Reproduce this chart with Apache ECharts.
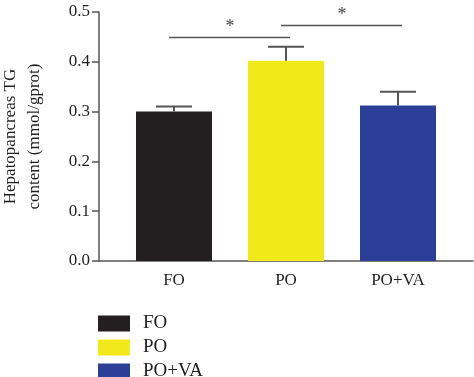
<!DOCTYPE html>
<html>
<head>
<meta charset="utf-8">
<script src="https://cdn.jsdelivr.net/npm/echarts@6/dist/echarts.min.js"></script>
<style>
  html, body { margin: 0; padding: 0; background: #fff; }
  #chart { width: 474px; height: 377px; }
</style>
</head>
<body>
<div id="chart"></div>
<script>
// groups and values
const groups = ['FO', 'PO', 'PO+VA'];
const means = [0.300, 0.402, 0.312];
const errors = [0.010, 0.028, 0.028];
const colors = ['#231f20', '#f2e91a', '#2b3f98'];
// significance brackets: from group index, to group index, height, label
const sigFrom = [0, 1];
const sigTo = [1, 2];
const sigLevel = [0.449, 0.473];
const sigLabel = ['*', '*'];

const font = '"Liberation Serif", "DejaVu Serif", serif';
const axisColor = '#555';

const chart = echarts.init(document.getElementById('chart'));

const barSeries = groups.map((g, i) => ({
  name: g,
  type: 'bar',
  barWidth: 76,
  barGap: '-100%',
  itemStyle: { color: colors[i] },
  data: groups.map((_, j) => (j === i ? means[i] : '-')),
  z: 2
}));

const errorSeries = {
  type: 'custom',
  name: 'err',
  data: groups.map((g, i) => [i, means[i], means[i] + errors[i]]),
  renderItem: function (params, api) {
    const base = api.coord([api.value(0), api.value(1)]);
    const top = api.coord([api.value(0), api.value(2)]);
    const half = 18;
    const style = { stroke: axisColor, lineWidth: 2 };
    return {
      type: 'group',
      children: [
        { type: 'line', shape: { x1: base[0], y1: base[1], x2: top[0], y2: top[1] }, style: style },
        { type: 'line', shape: { x1: top[0] - half, y1: top[1], x2: top[0] + half, y2: top[1] }, style: style }
      ]
    };
  },
  z: 3
};

const sigSeries = {
  type: 'custom',
  name: 'sig',
  data: sigFrom.map((f, i) => [f, sigTo[i], sigLevel[i], i]),
  renderItem: function (params, api) {
    const a = api.coord([api.value(0), api.value(2)]);
    const b = api.coord([api.value(1), api.value(2)]);
    const k = api.value(3);
    return {
      type: 'group',
      children: [
        { type: 'line', shape: { x1: a[0] - 5, y1: a[1], x2: b[0] + 4, y2: b[1] },
          style: { stroke: axisColor, lineWidth: 1.5 } },
        { type: 'text', x: (a[0] + b[0]) / 2, y: a[1] - 1,
          style: { text: sigLabel[k], fill: '#444', font: '18px ' + font,
                   textAlign: 'center', textVerticalAlign: 'bottom' } }
      ]
    };
  },
  z: 3
};

chart.setOption({
  animation: false,
  textStyle: { fontFamily: font },
  legend: {
    orient: 'vertical',
    left: 98,
    top: 314,
    height: 70,
    padding: 0,
    icon: 'rect',
    itemWidth: 32,
    itemHeight: 16,
    itemGap: 5,
    data: groups,
    textStyle: { fontSize: 19, lineHeight: 16, color: '#231f20', fontFamily: font, padding: [0, 0, 0, 8] }
  },
  grid: [
    { left: 118, right: 20, top: 12, bottom: 116, outerBoundsMode: 'none' },
    { left: 99, right: 1, top: 12, bottom: 116, outerBoundsMode: 'none' }
  ],
  xAxis: [
    {
      type: 'category',
      gridIndex: 0,
      data: groups,
      axisLine: { show: false },
      axisTick: { alignWithLabel: true, length: 7, lineStyle: { color: axisColor, width: 1.5 } },
      axisLabel: { color: '#231f20', fontSize: 17, margin: 11, fontFamily: font }
    },
    {
      type: 'value',
      gridIndex: 1,
      min: 0, max: 1,
      axisLine: { show: true, onZero: false, lineStyle: { color: axisColor, width: 1.5 } },
      axisTick: { show: false },
      axisLabel: { show: false },
      splitLine: { show: false }
    }
  ],
  yAxis: [
    {
      type: 'value',
      gridIndex: 0,
      min: 0, max: 0.5, interval: 0.1,
      offset: 19,
      axisLine: { show: true, onZero: false, lineStyle: { color: axisColor, width: 1.5 } },
      axisTick: { show: true, length: 7, lineStyle: { color: axisColor, width: 1.5 } },
      axisLabel: { color: '#231f20', fontSize: 17, margin: 9, fontFamily: font,
                   formatter: v => v.toFixed(1) },
      splitLine: { show: false },
      name: 'Hepatopancreas TG\ncontent (mmol/gprot)',
      nameLocation: 'middle',
      nameRotate: 90,
      nameGap: 52,
      nameTextStyle: { color: '#231f20', fontSize: 17, lineHeight: 24, fontFamily: font }
    },
    { type: 'value', gridIndex: 1, show: false }
  ],
  series: barSeries.concat([errorSeries, sigSeries])
});
</script>
</body>
</html>
